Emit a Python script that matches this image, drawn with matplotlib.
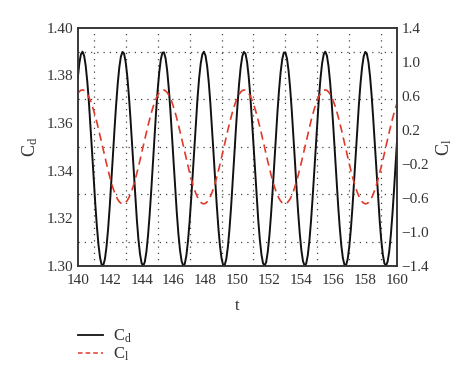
import matplotlib.pyplot as plt
from matplotlib.lines import Line2D
from matplotlib.ticker import MultipleLocator

# time axis
t = [140 + 0.1 * i for i in range(201)]

cd = [
    1.3788, 1.3851, 1.3889, 1.3900, 1.3883, 1.3840, 1.3773, 1.3687, 1.3585, 1.3476,
    1.3365, 1.3259, 1.3165, 1.3088, 1.3033, 1.3004, 1.3003, 1.3028, 1.3080, 1.3154,
    1.3246, 1.3351, 1.3461, 1.3572, 1.3674, 1.3763, 1.3833, 1.3879, 1.3899, 1.3892,
    1.3857, 1.3798, 1.3717, 1.3620, 1.3513, 1.3401, 1.3293, 1.3194, 1.3111, 1.3049,
    1.3011, 1.3000, 1.3017, 1.3060, 1.3127, 1.3214, 1.3315, 1.3425, 1.3536, 1.3642,
    1.3736, 1.3812, 1.3867, 1.3896, 1.3897, 1.3872, 1.3820, 1.3746, 1.3654, 1.3549,
    1.3438, 1.3328, 1.3225, 1.3136, 1.3067, 1.3021, 1.3001, 1.3008, 1.3043, 1.3103,
    1.3183, 1.3280, 1.3388, 1.3499, 1.3608, 1.3706, 1.3789, 1.3851, 1.3889, 1.3900,
    1.3883, 1.3840, 1.3773, 1.3686, 1.3584, 1.3475, 1.3364, 1.3258, 1.3164, 1.3087,
    1.3033, 1.3004, 1.3003, 1.3029, 1.3080, 1.3155, 1.3247, 1.3352, 1.3463, 1.3573,
    1.3675, 1.3764, 1.3834, 1.3880, 1.3899, 1.3892, 1.3857, 1.3797, 1.3716, 1.3619,
    1.3511, 1.3400, 1.3292, 1.3193, 1.3110, 1.3048, 1.3011, 1.3000, 1.3017, 1.3061,
    1.3128, 1.3215, 1.3316, 1.3426, 1.3537, 1.3643, 1.3737, 1.3813, 1.3867, 1.3896,
    1.3897, 1.3871, 1.3819, 1.3745, 1.3652, 1.3547, 1.3437, 1.3326, 1.3224, 1.3135,
    1.3066, 1.3020, 1.3001, 1.3009, 1.3044, 1.3104, 1.3185, 1.3282, 1.3390, 1.3501,
    1.3609, 1.3708, 1.3790, 1.3852, 1.3889, 1.3900, 1.3883, 1.3839, 1.3771, 1.3684,
    1.3583, 1.3473, 1.3362, 1.3256, 1.3163, 1.3086, 1.3032, 1.3004, 1.3003, 1.3029,
    1.3081, 1.3156, 1.3248, 1.3353, 1.3464, 1.3574, 1.3677, 1.3765, 1.3834, 1.3880,
    1.3899, 1.3891, 1.3856, 1.3796, 1.3715, 1.3617, 1.3510, 1.3398, 1.3290, 1.3192,
    1.3109, 1.3047, 1.3010, 1.3000, 1.3018, 1.3061, 1.3129, 1.3216, 1.3318, 1.3428,
    1.3539,
]

cl = [
    0.627, 0.652, 0.666, 0.670, 0.664, 0.647, 0.621, 0.585, 0.540, 0.487,
    0.427, 0.359, 0.287, 0.210, 0.129, 0.047, -0.036, -0.119, -0.199, -0.277,
    -0.350, -0.418, -0.480, -0.534, -0.580, -0.617, -0.645, -0.662, -0.670, -0.667,
    -0.654, -0.631, -0.598, -0.556, -0.506, -0.447, -0.382, -0.311, -0.236, -0.156,
    -0.074, 0.009, 0.091, 0.173, 0.252, 0.326, 0.396, 0.460, 0.517, 0.565,
    0.606, 0.637, 0.657, 0.668, 0.669, 0.659, 0.640, 0.610, 0.571, 0.523,
    0.468, 0.404, 0.335, 0.261, 0.183, 0.102, 0.019, -0.064, -0.146, -0.226,
    -0.302, -0.374, -0.440, -0.499, -0.550, -0.593, -0.627, -0.652, -0.666, -0.670,
    -0.664, -0.647, -0.621, -0.585, -0.540, -0.487, -0.426, -0.359, -0.286, -0.209,
    -0.129, -0.046, 0.037, 0.119, 0.200, 0.277, 0.351, 0.419, 0.480, 0.534,
    0.580, 0.617, 0.645, 0.662, 0.670, 0.667, 0.654, 0.631, 0.598, 0.556,
    0.505, 0.447, 0.382, 0.311, 0.235, 0.156, 0.074, -0.009, -0.092, -0.174,
    -0.252, -0.327, -0.397, -0.461, -0.517, -0.566, -0.606, -0.637, -0.658, -0.668,
    -0.669, -0.659, -0.639, -0.610, -0.571, -0.523, -0.467, -0.404, -0.335, -0.260,
    -0.182, -0.101, -0.018, 0.065, 0.147, 0.227, 0.303, 0.374, 0.441, 0.499,
    0.551, 0.594, 0.628, 0.652, 0.666, 0.670, 0.664, 0.647, 0.621, 0.585,
    0.540, 0.486, 0.426, 0.358, 0.285, 0.208, 0.128, 0.046, -0.037, -0.120,
    -0.201, -0.278, -0.351, -0.419, -0.481, -0.535, -0.580, -0.617, -0.645, -0.662,
    -0.670, -0.667, -0.654, -0.630, -0.598, -0.555, -0.505, -0.446, -0.381, -0.310,
    -0.234, -0.155, -0.073, 0.010, 0.093, 0.174, 0.253, 0.328, 0.398, 0.461,
    0.518,
]

cd_ticks = [1.30, 1.32, 1.34, 1.36, 1.38, 1.40]
cl_ticks = [-1.4, -1.0, -0.6, -0.2, 0.2, 0.6, 1.0, 1.4]
t_ticks = list(range(140, 161, 2))

plt.rcParams['font.family'] = ['Liberation Serif', 'DejaVu Serif']
plt.rcParams['mathtext.fontset'] = 'stix'

fig = plt.figure(figsize=(4.74, 3.82), dpi=100)
ax = fig.add_axes([0.164, 0.304, 0.674, 0.623])
ax2 = ax.twinx()

spine_col = '#333333'
ax.plot(t, cd, color='#111111', lw=1.4)
ax2.plot(t, cl, color='#e03a2a', lw=1.2, linestyle=(0, (5, 3)))

ax.set_xlim(140, 160)
ax.set_ylim(1.30, 1.40)
ax2.set_ylim(-1.4, 1.4)
ax.set_xticks(t_ticks)
ax.set_yticks(cd_ticks)
ax.set_yticklabels([f'{v:.2f}' for v in cd_ticks])
ax2.set_yticks(cl_ticks)
ax2.set_yticklabels([f'{v:.1f}'.replace('-', '\u2212') for v in cl_ticks])

# grid sits between the labelled ticks
ax.xaxis.set_minor_locator(MultipleLocator(1))
ax.yaxis.set_minor_locator(MultipleLocator(0.01))
ax.grid(False)
ax.grid(True, which='minor', color='#444444', linestyle=(0, (1, 4)), lw=0.9)

for a in (ax, ax2):
    a.tick_params(which='both', length=0, labelsize=11, colors='#333333', pad=3)
    for s in a.spines.values():
        s.set_color(spine_col)
        s.set_linewidth(1.1)
ax.tick_params(axis='x', pad=6)

ax.set_xlabel('t', fontsize=12, color='#333333', labelpad=8)
ax.set_ylabel('C$_\\mathregular{d}$', fontsize=13, color='#333333', labelpad=5)
ax2.set_ylabel('C$_\\mathregular{l}$', fontsize=13, color='#333333', labelpad=4)

handles = [Line2D([], [], color='#111111', lw=1.3),
           Line2D([], [], color='#e03a2a', lw=1.1, linestyle=(0, (3, 2)))]
fig.legend(handles, ['C$_\\mathregular{d}$', 'C$_\\mathregular{l}$'],
           loc='upper left', bbox_to_anchor=(0.133, 0.182), frameon=False,
           fontsize=12, handlelength=1.5, handletextpad=0.6, labelspacing=0.05,
           labelcolor='#333333')

fig.savefig('out.png', dpi=100)
